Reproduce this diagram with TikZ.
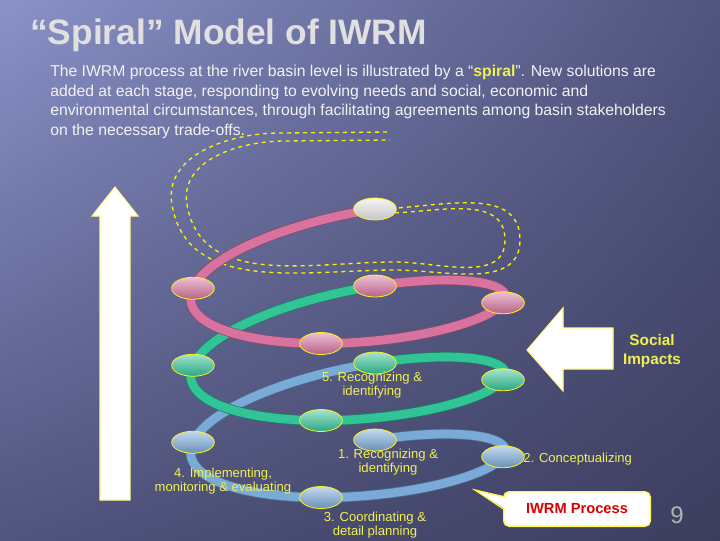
\documentclass[tikz,border=0pt]{standalone}
\usepackage{fontspec}
\setmainfont{Liberation Sans}
\usetikzlibrary{shapes.geometric,shadings}
\definecolor{bgA}{HTML}{8A92C8}
\definecolor{bgB}{HTML}{3C3E5E}
\definecolor{bgC}{HTML}{50547E}
\definecolor{lbl}{HTML}{F2F050}
\definecolor{cblue}{HTML}{7AAAD8}
\definecolor{cgreen}{HTML}{30C496}
\definecolor{cpink}{HTML}{D8739F}
\definecolor{cwhite}{HTML}{E8E8E8}
\begin{document}
\begin{tikzpicture}[x=0.75pt,y=-0.75pt,
  band/.style={line width=6.5pt,draw=#1,line cap=round},
  bandedge/.style={line width=7.6pt,draw=#1!65!black,line cap=round},
  knot/.style={ellipse,minimum width=32pt,minimum height=16.5pt,inner sep=0pt,draw=yellow!90!white,line width=0.6pt,top color=#1!45!white,bottom color=#1!85!black},
  lab/.style={text=lbl,font=\fontsize{9.8}{10}\selectfont,align=center,inner sep=0pt},
  dsh/.style={draw=yellow,dashed,line width=1pt},
  bigarrow/.style={fill=white,draw=yellow!45!white,line width=0.8pt,line join=miter}]
\useasboundingbox (0,0) rectangle (720,540);
\shade[upper left=bgA,upper right=bgC,lower left=bgC,lower right=bgB] (0,0) rectangle (720,540);
% title and text
\node[anchor=west,text=white!88!black,font=\fontsize{26.5}{28}\bfseries\selectfont,inner sep=0pt] (title) at (30,35) {“Spiral” Model of IWRM};
\node[anchor=north west,text=white!95!black,font=\fontsize{11.8}{14.6}\selectfont,align=left,inner sep=0pt] (para) at (50,65)
{The IWRM process at the river basin level is illustrated by a “\textcolor{lbl}{\bfseries spiral}”. New solutions are\\
added at each stage, responding to evolving needs and social, economic and\\
environmental circumstances, through facilitating agreements among basin stakeholders\\
on the necessary trade-offs.};
% up arrow
\draw[bigarrow] (100,500) -- (130,500) -- (130,216) -- (138,216) -- (115,187) -- (92,216) -- (100,216) -- cycle;
% dashed loops
\coordinate (W) at (375,209);
\draw[dsh] (W) to[out=0,in=90] (520,240) to[out=-90,in=0] (395,270) to[out=180,in=-80] (172,205) to[out=100,in=180] (280,133) -- (390,132);
\draw[dsh] (387,213) to[out=0,in=90] (505,240) to[out=-90,in=0] (395,262) to[out=180,in=-80] (187,205) to[out=100,in=180] (285,141) -- (390,140);
% spiral bands
\foreach \a/\col in {411/cblue, 334/cgreen, 257/cpink}{
  \draw[bandedge=\col] plot[domain=90:450,samples=90,variable=\t] ({348+155*cos(\t)+27*sin(\t)},{\a+0.21389*(\t-90)-48*sin(\t)-12*cos(\t)});
  \draw[band=\col] plot[domain=90:450,samples=90,variable=\t] ({348+155*cos(\t)+27*sin(\t)},{\a+0.21389*(\t-90)-48*sin(\t)-12*cos(\t)});
}
% knots
\node[knot=cwhite] (kw) at (W) {};
\foreach \t/\n in {180/L,270/B,360/R,450/T}{
  \pgfmathsetmacro\xx{348+155*cos(\t)+27*sin(\t)}
  \pgfmathsetmacro\yy{0.21389*(\t-90)-48*sin(\t)-12*cos(\t)}
  \node[knot=cpink] (kP\n) at (\xx,257+\yy) {};
  \node[knot=cgreen] (kG\n) at (\xx,334+\yy) {};
  \node[knot=cblue] (kB\n) at (\xx,411+\yy) {};
}
% labels
\node[lab] (l5) at (372,385) {5. Recognizing \&\\identifying};
\node[lab] (l1) at (388,462) {1. Recognizing \&\\identifying};
\node[lab,anchor=west] (l2) at (523,459) {2. Conceptualizing};
\node[lab] (l4) at (223,481) {4. Implementing,\\monitoring \& evaluating};
\node[lab] (l3) at (375,525) {3. Coordinating \&\\detail planning};
% social impacts arrow
\draw[bigarrow] (613,328) -- (563,328) -- (563,308) -- (527,350) -- (563,391) -- (563,369) -- (613,369) -- cycle;
\node[text=lbl,font=\fontsize{11.5}{14}\bfseries\selectfont,align=center] (si) at (652,351) {Social\\Impacts};
% callout
\node[fill=white,draw=yellow!70!white,line width=1pt,rounded corners=4pt,minimum width=110pt,minimum height=26pt,text=red!85!black,font=\fontsize{11}{12}\bfseries\selectfont] (iw) at (577,509) {IWRM Process};
\fill[white] (475,490) -- (507,497) -- (507,510) -- cycle;
\draw[yellow!70!white,line width=1pt] (505,497) -- (475,490) -- (505,510);
\node[text=white!70!black,font=\fontsize{18}{18}\selectfont\rmfamily] (pg) at (677,515) {9};
\end{tikzpicture}
\end{document}
